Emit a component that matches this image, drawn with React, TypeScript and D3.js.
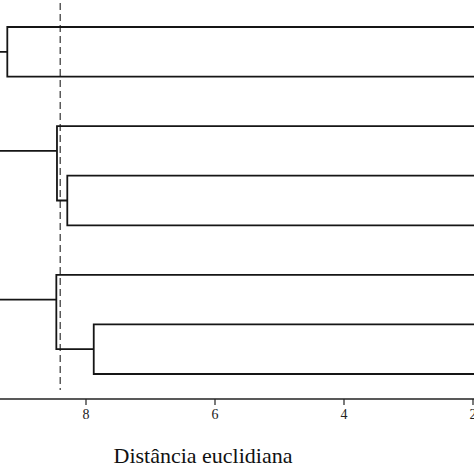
import React from "react";
import * as d3 from "d3";

// Leaves in display order (top to bottom)
const leafNames = ["1", "2", "3", "4", "5", "6", "7", "8"];
// hclust-style merges: negative = leaf (1-based), positive = earlier merge (1-based)
const mergeLeft = [-1, -4, -3, -7, -6, 3, 1];
const mergeRight = [-2, -5, 2, -8, 4, 5, 6];
const mergeHeight = [9.22, 8.29, 8.45, 7.88, 8.46, 10.5, 11.5];
const cutHeight = 8.4;
const tickValues = [8, 6, 4, 2];
const axisTitle = "Distância euclidiana";

const W = 474;
const H = 474;

export default function App() {
  const x = d3.scaleLinear().domain([8, 2]).range([86, 473]);
  const y = d3.scalePoint<string>().domain(leafNames).range([27, 374]);

  const nodeLeaves: string[][] = [];
  const leavesOf = (id: number): string[] =>
    id < 0 ? [leafNames[-id - 1]] : nodeLeaves[id - 1];
  mergeLeft.forEach((l, i) => {
    nodeLeaves[i] = [...leavesOf(l), ...leavesOf(mergeRight[i])];
  });
  const stemY = (id: number): number => {
    if (id < 0) return y(leafNames[-id - 1])!;
    const lv = nodeLeaves[id - 1];
    return (y(lv[0])! + y(lv[1])!) / 2;
  };
  const stemX = (id: number): number =>
    id < 0 ? x(0) : x(mergeHeight[id - 1]);

  const paths: string[] = [];
  mergeLeft.forEach((l, i) => {
    const r = mergeRight[i];
    const hx = x(mergeHeight[i]);
    const p = d3.path();
    p.moveTo(stemX(l), stemY(l));
    p.lineTo(hx, stemY(l));
    p.lineTo(hx, stemY(r));
    p.lineTo(stemX(r), stemY(r));
    paths.push(p.toString());
  });

  const axisY = 399;

  return (
    <svg
      width={W}
      height={H}
      style={{ position: "absolute", left: 0, top: 0, background: "#fff" }}
    >
      <rect x={0} y={0} width={W} height={H} fill="#fff" />
      <line
        x1={x(cutHeight)}
        x2={x(cutHeight)}
        y1={3}
        y2={390}
        stroke="#333"
        strokeWidth={1.2}
        strokeDasharray="7,4"
      />
      {paths.map((d, i) => (
        <path key={i} d={d} fill="none" stroke="#151515" strokeWidth={1.8} />
      ))}
      <line x1={0} x2={W} y1={axisY} y2={axisY} stroke="#222" strokeWidth={1.4} />
      {tickValues.map((t) => (
        <g key={t}>
          <line x1={x(t)} x2={x(t)} y1={axisY} y2={axisY + 6} stroke="#222" strokeWidth={1.2} />
          <text
            x={x(t)}
            y={axisY + 20}
            textAnchor="middle"
            fontFamily="Liberation Serif, Times New Roman, serif"
            fontSize={14}
            fill="#222"
          >
            {t}
          </text>
        </g>
      ))}
      <text
        x={203}
        y={463}
        textAnchor="middle"
        fontFamily="Liberation Serif, Times New Roman, serif"
        fontSize={22}
        fill="#111"
      >
        {axisTitle}
      </text>
    </svg>
  );
}
